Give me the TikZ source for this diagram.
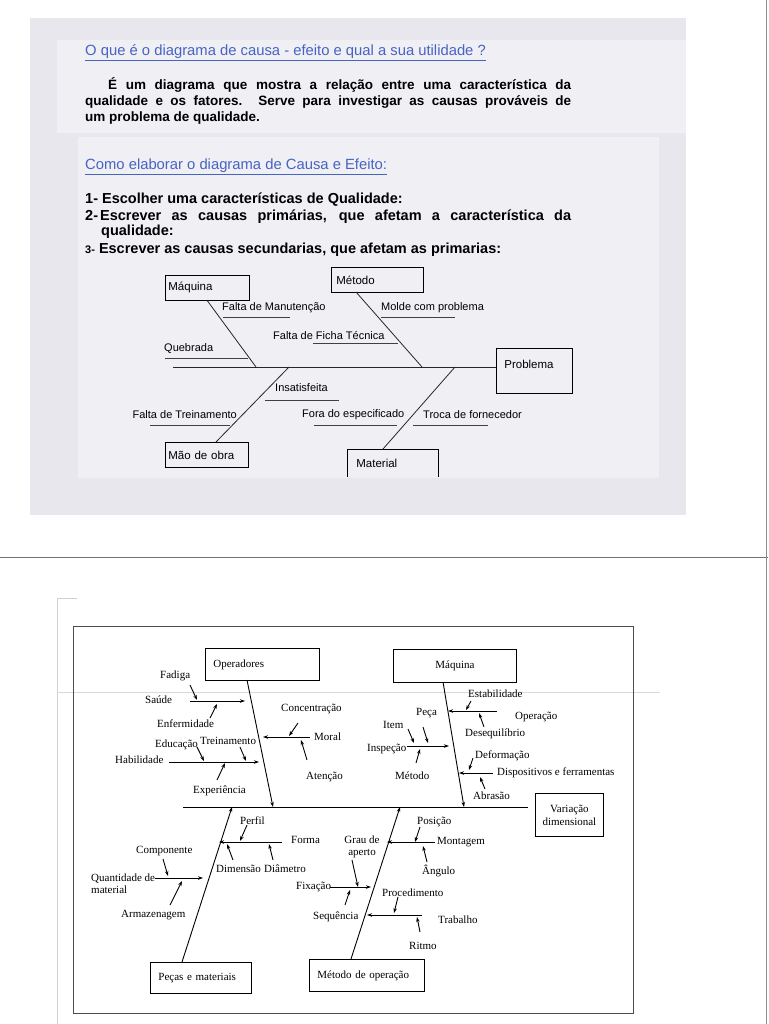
\documentclass[tikz,border=0pt]{standalone}
\usepackage{fontspec}
\setmainfont{Liberation Sans}
\newfontfamily\scanserif{Liberation Serif}
\usetikzlibrary{positioning,arrows.meta}
\definecolor{marble}{RGB}{233,231,238}
\definecolor{marblelt}{RGB}{240,239,244}
\definecolor{headblue}{RGB}{70,100,195}

\begin{document}
\begin{tikzpicture}[x=1pt,y=-1pt,>={Stealth[length=5pt,width=3.5pt]},
  box/.style={draw,line width=.8pt,anchor=north west,inner xsep=3pt,inner ysep=0pt,align=left},
  ubox/.style={box,font=\fontsize{11.5}{13}\selectfont},
  lbox/.style={box,font=\scanserif\fontsize{11}{13}\selectfont},
  ulab/.style={anchor=west,inner sep=0pt,font=\fontsize{11}{13}\selectfont},
  slab/.style={anchor=west,inner sep=0pt,font=\scanserif\fontsize{11}{12}\selectfont},
  txt/.style={anchor=base west,inner sep=0pt,font=\bfseries\fontsize{13.5}{16}\selectfont},
  item/.style={anchor=base west,inner sep=0pt,font=\bfseries\fontsize{14.5}{17}\selectfont},
  head/.style={anchor=base west,inner sep=0pt,text=headblue,font=\fontsize{14.8}{17}\selectfont},
  uline/.style={line width=.6pt,draw=black!75},
  bone/.style={line width=.8pt,draw=black!85},
  twig/.style={line width=.9pt,->}]
\useasboundingbox (0,0) rectangle (768,1024);
\fill[white] (0,0) rectangle (768,1024);

% scanned sheets
\fill[marble] (30,18) rectangle (686,515);
\fill[marblelt] (57,40) rectangle (686,133);
\fill[marblelt] (78,137) rectangle (659,478);
\draw[black!55,line width=1pt] (0,557) -- (768,557);
\draw[black!45] (766,0) -- (766,1024);
\draw[black!18] (77,598) -- (57,598) -- (57,1024);
\draw[black!15] (57,692) -- (660,692);

% texts of the upper sheet
\node[head] (q1) at (85,56) {\underline{O que é o diagrama de causa - efeito e qual a sua utilidade ?}};
\node[txt] (p1) at (108,90) {\makebox[463pt][s]{É um diagrama que mostra a relação entre uma característica da}};
\node[txt] (p2) at (85,106) {\makebox[486pt][s]{qualidade e os fatores. Serve para investigar as causas prováveis de}};
\node[txt] (p3) at (85,122) {um problema de qualidade.};
\node[head] (q2) at (85,170) {\underline{Como elaborar o diagrama de Causa e Efeito:}};
\node[item] (s1) at (85,204) {1- Escolher uma características de Qualidade:};
\node[item] (s2) at (85,221) {\makebox[486pt][s]{2-\hspace{2pt}Escrever as causas primárias, que afetam a característica da}};
\node[item] (s2b) at (101,236) {qualidade:};
\node[item] (s3) at (85,253) {{\fontsize{11}{12}\selectfont 3-} Escrever as causas secundarias, que afetam as primarias:};

% upper fishbone
\node[ubox,minimum height=25pt,text width=78pt] (maquina) at (165,275) {Máquina};
\node[ubox,minimum height=25pt,text width=86pt] (metodo) at (331,267) {\hspace{2pt}Método};
\node[ubox,minimum height=45pt,text width=70pt] (problema) at (496,348) {\hspace{5pt}Problema\\ ~};
\node[ubox,minimum height=25pt,text width=77pt] (maoobra) at (165,442) {Mão de obra};
\node[ubox,draw=none,minimum height=27pt,text width=85pt] (material) at (347,449) {\hspace{6pt}Material};
\draw[line width=.8pt] (material.south west) |- (material.north east) -- (material.south east);

\coordinate (spL) at (173,367);
\coordinate (b1) at (256,367); \coordinate (b2a) at (356,292); \coordinate (b2) at (422,367);
\coordinate (b3) at (289,367); \coordinate (b3a) at (216,442);
\coordinate (b4) at (455,367); \coordinate (b4a) at (383,449);
\draw[bone] (spL) -- (spL -| problema.west);
\draw[bone] (maquina.south) -- (b1);
\draw[bone] (b2a) -- (b2);
\draw[bone] (b3) -- (b3a);
\draw[bone] (b4) -- (b4a);

\node[ulab] (manut) at (222,308) {Falta de Manutenção};
\node[ulab] (molde) at (381,308) {Molde com problema};
\node[ulab] (ficha) at (273,336) {Falta de Ficha Técnica};
\node[ulab] (quebr) at (164,349) {Quebrada};
\node[ulab] (insat) at (275,388) {Insatisfeita};
\node[ulab,anchor=east] (trein) at (237,415) {Falta de Treinamento};
\node[ulab] (fora) at (302,415) {Fora do especificado};
\node[ulab] (troca) at (423,415) {Troca de fornecedor};
\draw[uline] (223,317) -- (290,317);
\draw[uline] (381,317) -- (455,317);
\draw[uline] (313,343) -- (398,343);
\draw[uline] (165,358) -- (248,358);
\draw[uline] (265,400) -- (339,400);
\draw[uline] (150,425) -- (230,425);
\draw[uline] (314,425) -- (397,425);
\draw[uline] (413,425) -- (488,425);

% lower sheet
\draw[black!70,line width=.6pt] (73,626) rectangle (633,1013);
\node[lbox,minimum height=32pt,text width=108pt] (operad) at (205,648) {\hspace{5pt}Operadores};
\node[lbox,minimum height=33pt,text width=117pt,align=center] (maqb) at (393,649) {Máquina};
\node[lbox,minimum height=43pt,text width=62pt,align=center] (variac) at (535,793) {Variação\\dimensional};
\node[lbox,minimum height=31pt,text width=95pt] (pecas) at (150,962) {\hspace{5pt}Peças e materiais};
\node[lbox,minimum height=32pt,text width=109pt] (metop) at (309,959) {\hspace{5pt}Método de operação};

\coordinate (spL2) at (183,807); \coordinate (spR2) at (528,807);
\coordinate (o1) at (247,680); \coordinate (o2) at (273,807);
\coordinate (m1) at (443,682); \coordinate (m2) at (464,807);
\coordinate (pm1) at (182,962); \coordinate (pm2) at (232,807);
\coordinate (mo1) at (351,959); \coordinate (mo2) at (400,807);
\draw[line width=1pt] (spL2) -- (spR2);
\draw[twig] (o1) -- (o2);
\draw[twig] (m1) -- (m2);
\draw[twig] (pm1) -- (pm2);
\draw[twig] (mo1) -- (mo2);

% operadores
\node[slab] (fadiga) at (160,676) {Fadiga};
\node[slab] (saude) at (145,700) {Saúde};
\node[slab] (enferm) at (157,724) {Enfermidade};
\node[slab] (habil) at (115,760) {Habilidade};
\node[slab] (educ) at (155,745) {Educação};
\node[slab] (treino) at (200,741) {Treinamento};
\node[slab] (exper) at (193,791) {Experiência};
\node[slab] (concen) at (281,709) {Concentração};
\node[slab] (moral) at (314,737) {Moral};
\node[slab] (atenc) at (306,777) {Atenção};
\coordinate (sa1) at (190,701); \coordinate (sa2) at (245,701);
\coordinate (ha1) at (169,762); \coordinate (ha2) at (259,762);
\coordinate (mr1) at (310,737); \coordinate (mr2) at (263,737);
\draw[twig] (sa1) -- (sa2);
\draw[twig] (ha1) -- (ha2);
\draw[twig] (mr1) -- (mr2);
\draw[twig] (190,685) coordinate (t1) -- (197,700) coordinate (t1b);
\draw[twig] (210,718) coordinate (t2) -- (217,704) coordinate (t2b);
\draw[twig] (197,747) coordinate (t3) -- (204,761) coordinate (t3b);
\draw[twig] (240,747) coordinate (t4) -- (246,761) coordinate (t4b);
\draw[twig] (217,780) coordinate (t5) -- (225,763) coordinate (t5b);
\draw[twig] (298,723) coordinate (t6) -- (289,736) coordinate (t6b);
\draw[twig] (307,760) coordinate (t7) -- (301,740) coordinate (t7b);

% maquina
\node[slab] (estab) at (468,694) {Estabilidade};
\node[slab] (operac) at (515,717) {Operação};
\node[slab] (deseq) at (465,734) {Desequilíbrio};
\node[slab] (item) at (383,725) {Item};
\node[slab] (peca) at (416,713) {Peça};
\node[slab] (insp) at (367,749) {Inspeção};
\node[slab] (metod) at (395,776) {Método};
\node[slab] (deform) at (475,756) {Deformação};
\node[slab] (dispo) at (497,773) {Dispositivos e ferramentas};
\node[slab] (abras) at (473,796) {Abrasão};
\coordinate (op1) at (497,711); \coordinate (op2) at (448,711);
\coordinate (in1) at (407,746); \coordinate (in2) at (449,746);
\coordinate (di1) at (493,773); \coordinate (di2) at (459,773);
\draw[twig] (op1) -- (op2);
\draw[twig] (in1) -- (in2);
\draw[twig] (di1) -- (di2);
\draw[twig] (471,701) coordinate (u1) -- (466,710) coordinate (u1b);
\draw[twig] (484,727) coordinate (u2) -- (479,713) coordinate (u2b);
\draw[twig] (408,729) coordinate (u3) -- (414,743) coordinate (u3b);
\draw[twig] (423,727) coordinate (u4) -- (428,743) coordinate (u4b);
\draw[twig] (416,763) coordinate (u5) -- (420,749) coordinate (u5b);
\draw[twig] (473,758) coordinate (u6) -- (469,770) coordinate (u6b);
\draw[twig] (485,789) coordinate (u7) -- (480,777) coordinate (u7b);

% pecas e materiais
\node[slab] (perfil) at (240,821) {Perfil};
\node[slab] (forma) at (291,840) {Forma};
\node[slab] (dimen) at (216,869) {Dimensão};
\node[slab] (diam) at (264,869) {Diâmetro};
\node[slab] (compon) at (136,851) {Componente};
\node[slab,align=left] (quant) at (91,883.5) {Quantidade de\\material};
\node[slab] (armaz) at (121,915) {Armazenagem};
\coordinate (fo1) at (282,842); \coordinate (fo2) at (219,842);
\coordinate (qu1) at (155,878); \coordinate (qu2) at (203,878);
\draw[twig] (fo1) -- (fo2);
\draw[twig] (qu1) -- (qu2);
\draw[twig] (247,825) coordinate (v1) -- (240,841) coordinate (v1b);
\draw[twig] (233,860) coordinate (v2) -- (227,844) coordinate (v2b);
\draw[twig] (273,860) coordinate (v3) -- (269,844) coordinate (v3b);
\draw[twig] (163,859) coordinate (v4) -- (168,876) coordinate (v4b);
\draw[twig] (170,905) coordinate (v5) -- (182,881) coordinate (v5b);

% metodo de operacao
\node[slab] (posic) at (417,822) {Posição};
\node[slab] (montag) at (437,842) {Montagem};
\node[slab] (angulo) at (422,871) {Ângulo};
\node[slab] (fixac) at (296,887) {Fixação};
\node[slab,align=center,anchor=center] (grau) at (362,847) {Grau de\\aperto};
\node[slab] (seque) at (313,917) {Sequência};
\node[slab] (proced) at (382,893) {Procedimento};
\node[slab] (trab) at (438,920) {Trabalho};
\node[slab] (ritmo) at (409,946) {Ritmo};
\coordinate (mt1) at (435,842); \coordinate (mt2) at (387,842);
\coordinate (fx1) at (330,887); \coordinate (fx2) at (371,887);
\coordinate (tb1) at (422,915); \coordinate (tb2) at (367,915);
\draw[twig] (mt1) -- (mt2);
\draw[twig] (fx1) -- (fx2);
\draw[twig] (tb1) -- (tb2);
\draw[twig] (420,827) coordinate (w1) -- (415,842) coordinate (w1b);
\draw[twig] (427,862) coordinate (w2) -- (423,846) coordinate (w2b);
\draw[twig] (352,860) coordinate (w3) -- (358,887) coordinate (w3b);
\draw[twig] (345,905) coordinate (w4) -- (350,890) coordinate (w4b);
\draw[twig] (398,897) coordinate (w5) -- (394,913) coordinate (w5b);
\draw[twig] (420,932) coordinate (w6) -- (417,917) coordinate (w6b);
\end{tikzpicture}
\end{document}
